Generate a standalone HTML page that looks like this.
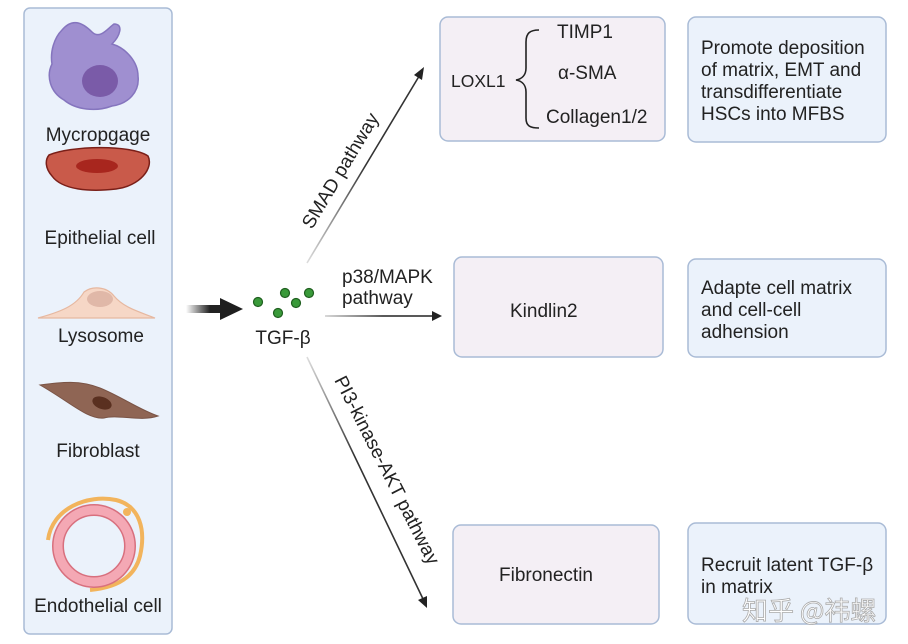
<!DOCTYPE html>
<html><head><meta charset="utf-8"><style>
html,body{margin:0;padding:0;background:#fff;}
svg{display:block;font-family:"Liberation Sans","Noto Sans CJK SC",sans-serif;}
</style></head><body>
<svg width="908" height="644" viewBox="0 0 908 644" xmlns="http://www.w3.org/2000/svg">
<defs>
<linearGradient id="g1" x1="0" y1="0" x2="1" y2="0"><stop offset="0" stop-color="#fff"/><stop offset="0.6" stop-color="#222"/></linearGradient>
<linearGradient id="gs" x1="307" y1="263" x2="424" y2="68" gradientUnits="userSpaceOnUse"><stop offset="0" stop-color="#ddd"/><stop offset="0.5" stop-color="#333"/></linearGradient>
<linearGradient id="gp" x1="307" y1="357" x2="427" y2="607" gradientUnits="userSpaceOnUse"><stop offset="0" stop-color="#ddd"/><stop offset="0.4" stop-color="#333"/></linearGradient>
<linearGradient id="gm" x1="325" y1="0" x2="441" y2="0" gradientUnits="userSpaceOnUse"><stop offset="0" stop-color="#ccc"/><stop offset="0.5" stop-color="#222"/></linearGradient>
</defs>
<rect width="908" height="644" fill="#fff"/>
<rect x="24" y="8" width="148" height="626" rx="6" fill="#ebf2fb" stroke="#a9bbd6" stroke-width="1.5"/>
<!-- macrophage -->
<path d="M62,30 C72,18 82,22 92,32 C100,40 108,28 114,24 C124,24 120,36 112,44 C126,48 138,62 138,76 C140,92 128,104 112,106 C96,112 76,110 64,100 C50,92 46,76 52,64 C50,52 54,38 62,30 Z" fill="#9f8fd0" stroke="#8575be" stroke-width="1.5"/>
<ellipse cx="100" cy="81" rx="18" ry="16" fill="#7a5ba8"/>
<text x="98" y="141" font-size="19" text-anchor="middle" fill="#222">Mycropgage</text>
<!-- epithelial -->
<path d="M49,155 C70,146 130,144 148,156 C154,168 140,186 116,189 C90,192 62,190 52,176 C45,168 45,160 49,155 Z" fill="#c95a4a" stroke="#7a1f18" stroke-width="1.5"/>
<ellipse cx="97" cy="166" rx="21" ry="7" fill="#a8261e"/>
<text x="100" y="244" font-size="19" text-anchor="middle" fill="#222">Epithelial cell</text>
<!-- lysosome cell -->
<path d="M38,318 C60,312 76,306 84,292 C92,286 106,286 114,296 C124,308 140,312 155,318 Z" fill="#f6d7c6" stroke="#e6b8a0" stroke-width="1.2"/>
<ellipse cx="100" cy="299" rx="13" ry="8" fill="#e0b8a8"/>
<text x="101" y="342" font-size="19" text-anchor="middle" fill="#222">Lysosome</text>
<!-- fibroblast -->
<path d="M40,385 C62,382 80,380 100,388 C120,396 140,410 158,416 C140,422 118,414 104,418 C88,420 70,402 40,385 Z" fill="#8f6554" stroke="#7a5446" stroke-width="1"/>
<ellipse cx="102" cy="403" rx="10" ry="6" fill="#5a3020" transform="rotate(20 102 403)"/>
<text x="98" y="457" font-size="19" text-anchor="middle" fill="#222">Fibroblast</text>
<!-- endothelial -->
<path d="M48,540 C52,508 88,494 116,500 C140,506 146,530 140,556 C134,580 112,588 90,590" fill="none" stroke="#f2b45c" stroke-width="4"/>
<circle cx="127" cy="512" r="4" fill="#f2b45c"/>
<circle cx="94" cy="546" r="36" fill="none" stroke="#d8707e" stroke-width="12"/>
<circle cx="94" cy="546" r="36" fill="none" stroke="#f4a8b4" stroke-width="9"/>
<text x="98" y="612" font-size="19" text-anchor="middle" fill="#222">Endothelial cell</text>
<!-- big arrow -->
<rect x="186" y="305" width="40" height="8" fill="url(#g1)"/>
<polygon points="220,298 243,309 220,320" fill="#1e1e1e"/>
<g fill="#3a9a3a" stroke="#1f5f1f" stroke-width="1.2">
<circle cx="258" cy="302" r="4.5"/><circle cx="285" cy="293" r="4.5"/><circle cx="296" cy="303" r="4.5"/><circle cx="309" cy="293" r="4.5"/><circle cx="278" cy="313" r="4.5"/>
</g>
<text x="283" y="344" font-size="19" text-anchor="middle" fill="#222">TGF-β</text>
<!-- SMAD arrow -->
<line x1="307" y1="263" x2="421" y2="73" stroke="url(#gs)" stroke-width="1.6"/>
<polygon points="424,67 422,80 414,75" fill="#222"/>
<text x="0" y="0" font-size="19" fill="#222" transform="translate(312,230) rotate(-59)">SMAD  pathway</text>
<!-- p38 arrow -->
<line x1="325" y1="316" x2="435" y2="316" stroke="url(#gm)" stroke-width="1.6"/>
<polygon points="442,316 432,311 432,321" fill="#222"/>
<text x="342" y="283" font-size="19" fill="#222">p38/MAPK</text>
<text x="342" y="304" font-size="19" fill="#222">pathway</text>
<!-- PI3 arrow -->
<line x1="307" y1="357" x2="424" y2="601" stroke="url(#gp)" stroke-width="1.6"/>
<polygon points="427,608 418,600 427,596" fill="#222"/>
<text x="0" y="0" font-size="19" fill="#222" transform="translate(334,380) rotate(63)">PI3-kinase-AKT pathway</text>
<!-- boxes -->
<rect x="440" y="17" width="225" height="124" rx="8" fill="#f4eff5" stroke="#a9bbd6" stroke-width="1.5"/>
<text x="451" y="87" font-size="17.5" fill="#222">LOXL1</text>
<path d="M539,30 C530,30 526,33 526,42 L526,68 C526,75 522,79 516,80 C522,81 526,85 526,92 L526,118 C526,126 530,128 539,128" fill="none" stroke="#222" stroke-width="1.6"/>
<text x="557" y="38" font-size="19" fill="#222">TIMP1</text>
<text x="558" y="79" font-size="19" fill="#222">α-SMA</text>
<text x="546" y="123" font-size="19" fill="#222">Collagen1/2</text>
<rect x="688" y="17" width="198" height="125" rx="8" fill="#ebf2fb" stroke="#a9bbd6" stroke-width="1.5"/>
<g font-size="19" fill="#222">
<text x="701" y="54">Promote deposition</text>
<text x="701" y="76">of matrix, EMT and</text>
<text x="701" y="98">transdifferentiate</text>
<text x="701" y="120">HSCs into MFBS</text>
</g>
<rect x="454" y="257" width="209" height="100" rx="8" fill="#f4eff5" stroke="#a9bbd6" stroke-width="1.5"/>
<text x="510" y="317" font-size="19" fill="#222">Kindlin2</text>
<rect x="688" y="259" width="198" height="98" rx="8" fill="#ebf2fb" stroke="#a9bbd6" stroke-width="1.5"/>
<g font-size="19" fill="#222">
<text x="701" y="294">Adapte cell matrix</text>
<text x="701" y="316">and cell-cell</text>
<text x="701" y="338">adhension</text>
</g>
<rect x="453" y="525" width="206" height="99" rx="8" fill="#f4eff5" stroke="#a9bbd6" stroke-width="1.5"/>
<text x="499" y="581" font-size="19" fill="#222">Fibronectin</text>
<rect x="688" y="523" width="198" height="101" rx="8" fill="#ebf2fb" stroke="#a9bbd6" stroke-width="1.5"/>
<g font-size="19" fill="#222">
<text x="701" y="571">Recruit latent TGF-β</text>
<text x="701" y="593">in matrix</text>
</g>
<text x="742" y="620" font-size="26" fill="#fff" stroke="#aaa" stroke-width="0.8" font-family="'Noto Sans CJK SC',sans-serif">知乎 @祎螺</text>
</svg>
</body></html>
